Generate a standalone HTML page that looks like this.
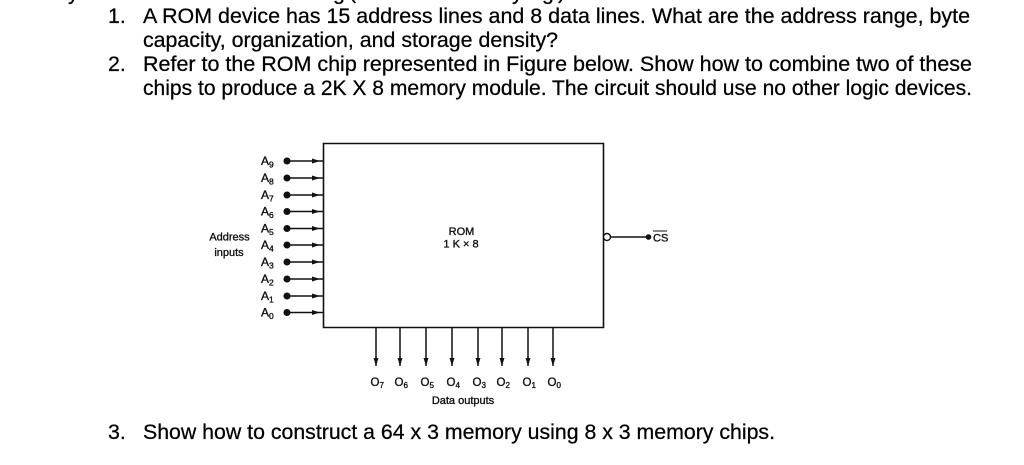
<!DOCTYPE html>
<html>
<head>
<meta charset="utf-8">
<style>
  html,body{margin:0;padding:0;background:#fff;}
  svg{display:block;}
  .q{font-family:"Liberation Sans",Arial,sans-serif;font-size:21.4px;fill:#000;stroke:#000;stroke-width:0.25px;}
  .d{font-family:"Liberation Sans",Arial,sans-serif;fill:#111;stroke:#111;stroke-width:0.35px;}
</style>
</head>
<body>
<svg width="1024" height="465" viewBox="0 0 1024 465" xmlns="http://www.w3.org/2000/svg">
  <rect width="1024" height="465" fill="#fff"/>

  <!-- cut-off previous line descenders -->
  <g class="q">
    <text x="68" y="-0.5">y</text>
    <text x="333" y="-0.5">g</text>
    <text x="349" y="-1.5">(</text>
    <text x="512" y="-0.5">y</text>
    <text x="542" y="-0.5">g</text>
    <text x="558" y="-1.5">)</text>
  </g>

  <!-- questions -->
  <g class="q">
    <text x="108" y="23">1.</text>
    <text x="143" y="23" textLength="827" lengthAdjust="spacingAndGlyphs">A ROM device has 15 address lines and 8 data lines. What are the address range, byte</text>
    <text x="143" y="47" textLength="415" lengthAdjust="spacingAndGlyphs">capacity, organization, and storage density?</text>
    <text x="108" y="71">2.</text>
    <text x="143" y="71" textLength="829" lengthAdjust="spacingAndGlyphs">Refer to the ROM chip represented in Figure below. Show how to combine two of these</text>
    <text x="143" y="95" textLength="829" lengthAdjust="spacingAndGlyphs">chips to produce a 2K X 8 memory module. The circuit should use no other logic devices.</text>
    <text x="108" y="439">3.</text>
    <text x="143" y="439" textLength="632" lengthAdjust="spacingAndGlyphs">Show how to construct a 64 x 3 memory using 8 x 3 memory chips.</text>
  </g>

  <!-- ROM box -->
  <path d="M323.5 143.5 L603.5 143.5 L603.5 327.5 L323.5 327.5 Z" fill="none" stroke="#111" stroke-width="1.6"/>

  <!-- ROM label -->
  <text class="d" x="461.5" y="235" font-size="11" text-anchor="middle">ROM</text>
  <text class="d" x="461" y="247.5" font-size="11" text-anchor="middle">1 K × 8</text>

  <!-- Address inputs label -->
  <text class="d" x="229.5" y="240.5" font-size="11" text-anchor="middle">Address</text>
  <text class="d" x="229" y="256" font-size="11" text-anchor="middle">inputs</text>

  <!-- address lines -->
  <g stroke="#111" stroke-width="1.5" fill="#111">
    <circle cx="287" cy="161" r="2.8"/><line x1="287" y1="161" x2="323.5" y2="161"/><path d="M320 161 L312 158.5 L312 163.5 Z" stroke="none"/>
    <circle cx="287" cy="178" r="2.8"/><line x1="287" y1="178" x2="323.5" y2="178"/><path d="M320 178 L312 175.5 L312 180.5 Z" stroke="none"/>
    <circle cx="287" cy="195" r="2.8"/><line x1="287" y1="195" x2="323.5" y2="195"/><path d="M320 195 L312 192.5 L312 197.5 Z" stroke="none"/>
    <circle cx="287" cy="211.5" r="2.8"/><line x1="287" y1="211.5" x2="323.5" y2="211.5"/><path d="M320 211.5 L312 209 L312 214 Z" stroke="none"/>
    <circle cx="287" cy="228.5" r="2.8"/><line x1="287" y1="228.5" x2="323.5" y2="228.5"/><path d="M320 228.5 L312 226 L312 231 Z" stroke="none"/>
    <circle cx="287" cy="245" r="2.8"/><line x1="287" y1="245" x2="323.5" y2="245"/><path d="M320 245 L312 242.5 L312 247.5 Z" stroke="none"/>
    <circle cx="287" cy="262" r="2.8"/><line x1="287" y1="262" x2="323.5" y2="262"/><path d="M320 262 L312 259.5 L312 264.5 Z" stroke="none"/>
    <circle cx="287" cy="279" r="2.8"/><line x1="287" y1="279" x2="323.5" y2="279"/><path d="M320 279 L312 276.5 L312 281.5 Z" stroke="none"/>
    <circle cx="287" cy="296" r="2.8"/><line x1="287" y1="296" x2="323.5" y2="296"/><path d="M320 296 L312 293.5 L312 298.5 Z" stroke="none"/>
    <circle cx="287" cy="312.5" r="2.8"/><line x1="287" y1="312.5" x2="323.5" y2="312.5"/><path d="M320 312.5 L312 310 L312 315 Z" stroke="none"/>
  </g>

  <!-- address labels -->
  <g class="d" font-size="12">
    <text x="261" y="165">A<tspan font-size="8.5" dy="2.5">9</tspan></text>
    <text x="261" y="182">A<tspan font-size="8.5" dy="2.5">8</tspan></text>
    <text x="261" y="199">A<tspan font-size="8.5" dy="2.5">7</tspan></text>
    <text x="261" y="215.5">A<tspan font-size="8.5" dy="2.5">6</tspan></text>
    <text x="261" y="232.5">A<tspan font-size="8.5" dy="2.5">5</tspan></text>
    <text x="261" y="249">A<tspan font-size="8.5" dy="2.5">4</tspan></text>
    <text x="261" y="266">A<tspan font-size="8.5" dy="2.5">3</tspan></text>
    <text x="261" y="283">A<tspan font-size="8.5" dy="2.5">2</tspan></text>
    <text x="261" y="300">A<tspan font-size="8.5" dy="2.5">1</tspan></text>
    <text x="261" y="316.5">A<tspan font-size="8.5" dy="2.5">0</tspan></text>
  </g>

  <!-- CS -->
  <circle cx="607" cy="237" r="3.5" fill="#fff" stroke="#111" stroke-width="1.4"/>
  <line x1="610.5" y1="237" x2="648" y2="237" stroke="#111" stroke-width="1.4"/>
  <circle cx="648.5" cy="237" r="2.8" fill="#111"/>
  <text class="d" x="653" y="241.5" font-size="11">CS</text>
  <line x1="653" y1="231" x2="667" y2="231" stroke="#111" stroke-width="1"/>

  <!-- data output arrows -->
  <g stroke="#111" stroke-width="1.5" fill="#111">
    <line x1="376" y1="327.5" x2="376" y2="366"/><path d="M376 366 L373.5 358 L378.5 358 Z" stroke="none"/>
    <line x1="400" y1="327.5" x2="400" y2="366"/><path d="M400 366 L397.5 358 L402.5 358 Z" stroke="none"/>
    <line x1="426" y1="327.5" x2="426" y2="366"/><path d="M426 366 L423.5 358 L428.5 358 Z" stroke="none"/>
    <line x1="452" y1="327.5" x2="452" y2="366"/><path d="M452 366 L449.5 358 L454.5 358 Z" stroke="none"/>
    <line x1="478" y1="327.5" x2="478" y2="366"/><path d="M478 366 L475.5 358 L480.5 358 Z" stroke="none"/>
    <line x1="502" y1="327.5" x2="502" y2="366"/><path d="M502 366 L499.5 358 L504.5 358 Z" stroke="none"/>
    <line x1="528" y1="327.5" x2="528" y2="366"/><path d="M528 366 L525.5 358 L530.5 358 Z" stroke="none"/>
    <line x1="553" y1="327.5" x2="553" y2="366"/><path d="M553 366 L550.5 358 L555.5 358 Z" stroke="none"/>
  </g>

  <!-- data output labels -->
  <g class="d" font-size="11.5">
    <text x="370.5" y="386">O<tspan font-size="8" dy="2">7</tspan></text>
    <text x="394.5" y="386">O<tspan font-size="8" dy="2">6</tspan></text>
    <text x="420.5" y="386">O<tspan font-size="8" dy="2">5</tspan></text>
    <text x="446.5" y="386">O<tspan font-size="8" dy="2">4</tspan></text>
    <text x="472.5" y="386">O<tspan font-size="8" dy="2">3</tspan></text>
    <text x="496.5" y="386">O<tspan font-size="8" dy="2">2</tspan></text>
    <text x="522.5" y="386">O<tspan font-size="8" dy="2">1</tspan></text>
    <text x="547.5" y="386">O<tspan font-size="8" dy="2">0</tspan></text>
  </g>
  <text class="d" x="463" y="404" font-size="11" text-anchor="middle">Data outputs</text>
</svg>
</body>
</html>
